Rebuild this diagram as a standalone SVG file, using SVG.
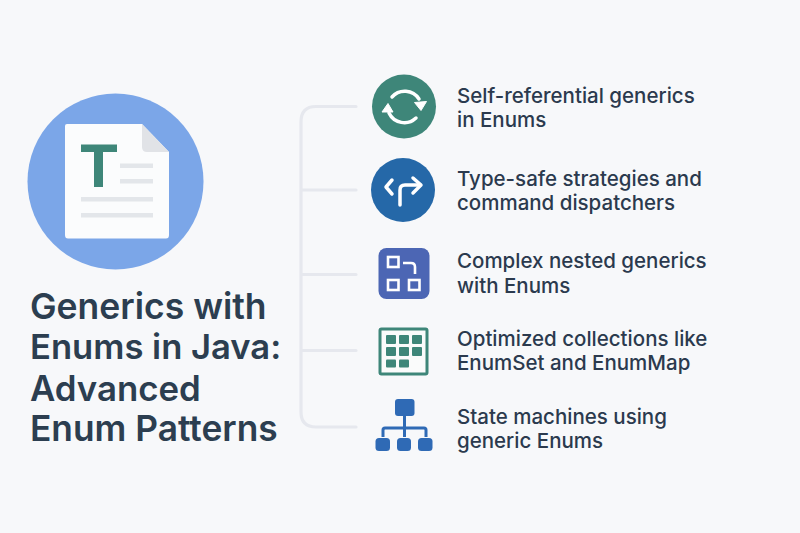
<svg xmlns="http://www.w3.org/2000/svg" width="800" height="533" viewBox="0 0 800 533">
<style>
.t{font-family:"Inter","Liberation Sans",sans-serif;font-size:20.5px;font-weight:500;fill:#2b3a4e}
.h{font-family:"Inter","Liberation Sans",sans-serif;font-weight:600;fill:#2c3e50}
.c{fill:none;stroke:#e6e8ee;stroke-width:3.2;stroke-linecap:round}
.w{fill:none;stroke:#fff;stroke-width:3.5;stroke-linecap:round;stroke-linejoin:round}
.g{fill:#e3e6ea}
.s{fill:none;stroke:#fff;stroke-width:2.6}
</style>
<rect width="800" height="533" fill="#f7f8fa"/>
<g id="connectors">
<path class="c" d="M356 106.500H316Q301 106.500 301 122V412Q301 427 316 427H356"/>
<path class="c" d="M302 190H356M302 274.500H356M302 350.500H356"/>
</g>
<g id="doc">
<circle cx="115.500" cy="181.500" r="88" fill="#7ba6e8"/>
<path d="M67 124H142L169 152V235Q169 238.500 166 238.500H68Q65 238.500 65 235V126Q65 124 67 124Z" fill="#fbfcfd"/>
<path d="M142 124L169 152H147Q142 152 142 147Z" fill="#e1e3e7"/>
<path d="M81 144.500H117V152H103V187H94V152H81Z" fill="#3e8679"/>
<rect class="g" x="120" y="163.500" width="33" height="4.500"/>
<rect class="g" x="120" y="179" width="33" height="4.500"/>
<rect class="g" x="81" y="197" width="72" height="4.500"/>
<rect class="g" x="81" y="213" width="72" height="4.500"/>
</g>
<g id="title">
<text class="h" x="30" y="318.500" font-size="35.500">Generics with</text>
<text class="h" x="30" y="359" font-size="34.600">Enums in Java:</text>
<text class="h" x="30" y="400.500" font-size="34.800">Advanced</text>
<text class="h" x="30" y="441" font-size="35.300">Enum Patterns</text>
</g>
<g id="item1">
<circle cx="404" cy="106.500" r="32" fill="#3e8679"/>
<path class="w" d="M392 97A17 17 0 0 1 419 99"/>
<path d="M414.500 102.500L426.500 101.500L421 110.500Z" fill="#fff" stroke="#fff" stroke-linejoin="round"/>
<path class="w" d="M416 118A17 17 0 0 1 389 113"/>
<path d="M382 112L393 112L388 103.500Z" fill="#fff" stroke="#fff" stroke-linejoin="round"/>
<text class="t" x="457" y="102.500">Self-referential generics</text>
<text class="t" x="457" y="126.500">in Enums</text>
</g>
<g id="item2">
<circle cx="403" cy="190" r="32" fill="#2568a8"/>
<path class="w" d="M400 205V190Q400 185 405 185H420"/>
<path class="w" d="M413 178L421 185L413 193"/>
<path class="w" d="M392 180L386 187L392 194"/>
<text class="t" x="457" y="185.500">Type-safe strategies and</text>
<text class="t" x="457" y="210">command dispatchers</text>
</g>
<g id="item3">
<rect x="378.500" y="248" width="51" height="51" rx="8" fill="#4c66b4"/>
<rect class="s" x="388" y="257" width="10.500" height="10"/>
<rect class="s" x="388" y="280" width="10.500" height="10"/>
<rect class="s" x="409" y="280" width="10.500" height="10"/>
<path class="s" d="M403 263H411Q415 263 415 267V274"/>
<text class="t" x="457" y="267.500">Complex nested generics</text>
<text class="t" x="457" y="292.500">with Enums</text>
</g>
<g id="item4">
<rect x="380" y="329" width="47" height="45" rx="1.500" fill="#fafbfb" stroke="#3e8679" stroke-width="3"/>
<g fill="#3e8679">
<rect x="386" y="335" width="10" height="9" rx="1"/><rect x="399" y="335" width="10" height="9" rx="1"/><rect x="412" y="335" width="10" height="9" rx="1"/>
<rect x="386" y="347" width="10" height="9" rx="1"/><rect x="399" y="347" width="10" height="9" rx="1"/><rect x="412" y="347" width="10" height="9" rx="1"/>
<rect x="386" y="359.500" width="10" height="8" rx="1"/><rect x="399" y="359.500" width="10" height="8" rx="1"/>
</g>
<text class="t" x="457" y="345.500">Optimized collections like</text>
<text class="t" x="457" y="369.500">EnumSet and EnumMap</text>
</g>
<g id="item5">
<g fill="#2f6ab5">
<rect x="395" y="399" width="19.500" height="17" rx="3"/>
<rect x="375.500" y="438" width="14.500" height="13" rx="3.500"/>
<rect x="397" y="438" width="14" height="13" rx="3.500"/>
<rect x="418" y="438" width="14.500" height="13" rx="3.500"/>
</g>
<path d="M404.500 416V437M383 437V430Q383 428 385 428H424Q426 428 426 430V437" fill="none" stroke="#2f6ab5" stroke-width="3"/>
<text class="t" x="457" y="423.500">State machines using</text>
<text class="t" x="457" y="447.500">generic Enums</text>
</g>
</svg>
